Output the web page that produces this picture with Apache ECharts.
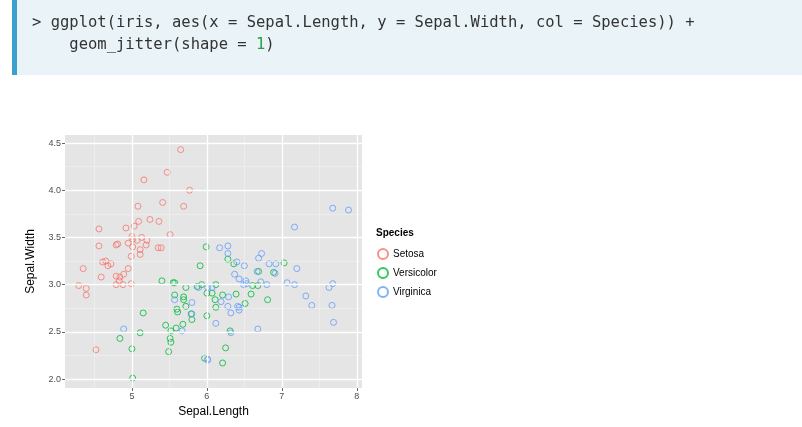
<!DOCTYPE html>
<html><head><meta charset="utf-8">
<script src="https://cdn.jsdelivr.net/npm/echarts@6/dist/echarts.min.js"></script>
<style>html,body{margin:0;padding:0;background:#fff}#c{width:802px;height:427px}</style>
</head><body><div id="c"></div>
<script>
const setosa = [[5.65,4.43],[5.47,4.19],[5.16,4.11],[5.77,4.0],[5.41,3.87],[5.69,3.83],[5.08,3.83],[5.09,3.67],[5.24,3.69],[5.36,3.67],
  [4.56,3.59],[4.92,3.6],[5.03,3.62],[5.51,3.53],[5.0,3.51],[5.07,3.47],[5.2,3.47],[5.01,3.48],[4.56,3.41],[4.79,3.42],
  [4.81,3.43],[4.95,3.44],[5.01,3.4],[5.11,3.37],[5.19,3.42],[5.35,3.39],[5.39,3.39],[4.99,3.3],[5.11,3.32],[4.65,3.25],
  [4.61,3.24],[4.68,3.2],[4.35,3.17],[4.59,3.08],[4.79,3.09],[4.84,3.08],[4.89,3.11],[4.83,3.04],[4.95,3.17],[4.29,2.99],
  [4.39,2.96],[4.39,2.89],[4.79,3.0],[4.88,3.0],[4.99,3.01],[4.52,2.31],[5.13,3.5],[4.72,3.22]];
const versicolor = [[5.99,3.4],[5.91,3.2],[5.4,3.04],[5.55,3.02],[5.57,3.02],[5.72,2.97],[5.87,2.98],[6.0,2.91],[5.57,2.89],[5.69,2.87],
  [5.69,2.84],[5.72,2.77],[5.61,2.71],[5.15,2.7],[5.79,2.69],[5.8,2.63],[6.0,2.67],[5.45,2.57],[5.68,2.58],[5.59,2.54],
  [5.52,2.51],[5.11,2.49],[4.84,2.43],[5.51,2.43],[5.52,2.39],[5.0,2.32],[5.49,2.29],[5.97,2.22],[5.01,2.01],[6.28,3.27],
  [6.36,3.22],[7.03,3.23],[6.69,3.14],[6.89,3.13],[6.12,3.0],[6.07,2.91],[6.21,2.89],[6.39,2.9],[6.59,2.9],[6.61,2.99],
  [6.68,2.99],[6.11,2.84],[6.12,2.76],[6.51,2.8],[6.81,2.84],[6.31,2.51],[6.25,2.33],[6.21,2.17],[5.93,3.0],[5.6,2.74]];
const virginica = [[5.89,2.97],[6.01,2.97],[5.57,2.84],[5.8,2.81],[5.8,2.69],[5.67,2.51],[4.89,2.53],[6.01,2.21],[7.68,3.81],[7.89,3.79],
  [7.17,3.61],[6.17,3.39],[6.28,3.41],[6.28,3.33],[6.73,3.33],[6.69,3.28],[6.4,3.24],[6.5,3.2],[6.83,3.22],[6.92,3.22],
  [7.2,3.17],[6.37,3.11],[6.67,3.14],[6.91,3.12],[6.52,3.04],[6.49,3.0],[6.53,3.01],[6.72,3.03],[6.8,3.0],[7.07,3.02],
  [7.17,3.0],[7.63,2.97],[7.68,3.01],[6.07,2.97],[6.29,2.87],[6.19,2.82],[6.28,2.77],[6.41,2.77],[6.43,2.73],[6.43,2.76],
  [7.32,2.88],[7.4,2.78],[7.67,2.78],[6.32,2.7],[6.12,2.59],[6.68,2.53],[7.69,2.6],[6.32,2.49],[6.01,2.2],[6.43,3.06]];
const xTicks = [5, 6, 7, 8];
const yTicks = [2.0, 2.5, 3.0, 3.5, 4.0, 4.5];
const xMinor = [4.5, 5.5, 6.5, 7.5];
const yMinor = [2.25, 2.75, 3.25, 3.75, 4.25];

const chart = echarts.init(document.getElementById('c'));
const lab = { color: '#4d4d4d', fontSize: 9, fontFamily: 'Liberation Sans' };
function grid(vals, key, w, col) {
  return vals.map(v => ({ [key]: v, lineStyle: { color: col, width: w, type: 'solid' } }));
}
function sc(name, data, color) {
  return { name, type: 'scatter', data, symbol: 'circle', symbolSize: 6, z: 3,
    itemStyle: { color: 'rgba(0,0,0,0)', borderColor: color, borderWidth: 1 } };
}
chart.setOption({
  animation: false,
  graphic: [
    { type: 'rect', shape: { x: 12, y: 0, width: 790, height: 75 }, style: { fill: '#eaf4f8' } },
    { type: 'rect', shape: { x: 12, y: 0, width: 5, height: 75 }, style: { fill: '#3aa0d0' } },
    { type: 'text', left: 32, top: 15, style: { text: '> ggplot(iris, aes(x = Sepal.Length, y = Sepal.Width, col = Species)) +',
      font: '15.5px "DejaVu Sans Mono"', fill: '#333' } },
    { type: 'text', left: 32, top: 37, style: { text: '    geom_jitter(shape = {g|1})',
      rich: { g: { fill: '#2e9e3e', font: '15.5px "DejaVu Sans Mono"' } },
      font: '15.5px "DejaVu Sans Mono"', fill: '#333' } },
    { type: 'text', left: 376, top: 228, style: { text: 'Species', font: 'bold 10px "Liberation Sans"', fill: '#000' } }
  ],
  grid: { left: 65, right: 440, top: 135, bottom: 39, show: true, backgroundColor: '#e5e5e5', borderWidth: 0 },
  legend: { orient: 'vertical', left: 372, top: 243, itemWidth: 10, itemHeight: 10, itemGap: 7,
    data: ['Setosa', 'Versicolor', 'Virginica'],
    textStyle: { fontSize: 10, fontFamily: 'Liberation Sans', color: '#000' } },
  xAxis: { type: 'value', min: 4.107, max: 8.07, splitLine: { show: false },
    axisLine: { show: false }, axisTick: { show: true, customValues: xTicks, length: 3, lineStyle: { color: '#666' } },
    axisLabel: { ...lab, customValues: xTicks, formatter: v => String(v), margin: 4 },
    name: 'Sepal.Length', nameLocation: 'middle', nameGap: 16,
    nameTextStyle: { fontSize: 12, fontFamily: 'Liberation Sans', color: '#000' } },
  yAxis: { type: 'value', min: 1.905, max: 4.585, splitLine: { show: false },
    axisLine: { show: false }, axisTick: { show: true, customValues: yTicks, length: 3, lineStyle: { color: '#666' } },
    axisLabel: { ...lab, customValues: yTicks, formatter: v => v.toFixed(1), margin: 4 },
    name: 'Sepal.Width', nameLocation: 'middle', nameGap: 28,
    nameTextStyle: { fontSize: 12, fontFamily: 'Liberation Sans', color: '#000' } },
  series: [
    { type: 'scatter', data: [], z: 1, silent: true,
      markLine: { silent: true, symbol: 'none', label: { show: false }, animation: false,
        data: [...grid(xMinor, 'xAxis', 0.6, '#f2f2f2'), ...grid(yMinor, 'yAxis', 0.6, '#f2f2f2'),
               ...grid(xTicks, 'xAxis', 1.3, '#ffffff'), ...grid(yTicks, 'yAxis', 1.3, '#ffffff')] } },
    sc('Setosa', setosa, '#F8766D'),
    sc('Versicolor', versicolor, '#00BA38'),
    sc('Virginica', virginica, '#619CFF')
  ]
});
</script></body></html>
